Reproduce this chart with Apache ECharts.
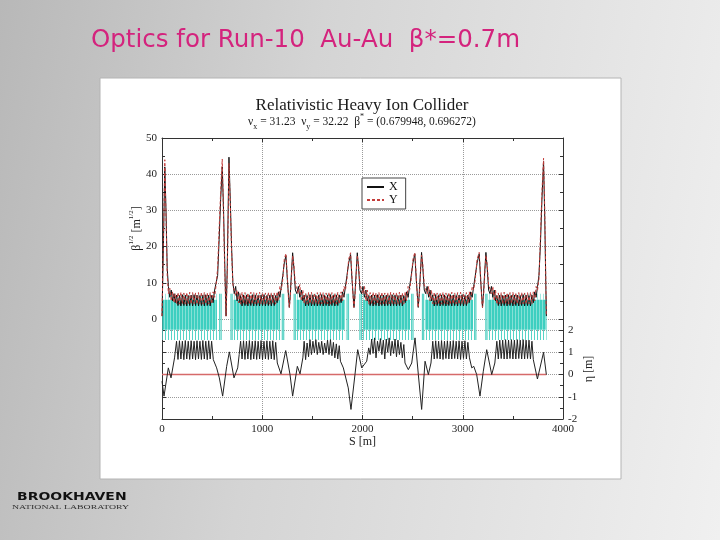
<!DOCTYPE html>
<html><head><meta charset="utf-8">
<script src="https://cdn.jsdelivr.net/npm/echarts@6/dist/echarts.min.js"></script>
<style>
html,body{margin:0;padding:0;}
body{width:720px;height:540px;background:linear-gradient(100deg,#b8b8b8 0%,#d4d4d4 40%,#f0f0f0 100%);}
#c{width:720px;height:540px;}
</style></head><body><div id="c"></div>
<script>
// ---------------- data ----------------
const sTickLabels = [0, 1000, 2000, 3000, 4000];
const betaTickLabels = [0, 10, 20, 30, 40, 50];
const etaTickLabels = [-2, -1, 0, 1, 2];

// insertion regions: [S (m), sqrt(beta_x), sqrt(beta_y)]
const irOptics = [
  [0,0.8,0.8],[14,20,22],[28,42,44],[40,30,28],[52,14,12],[64,9,7],[78,6,8.5],[92,8,5],[106,5,7.5],[120,7,4.5],[132,4.5,7],
  [510,4.5,7.5],[525,8,6],[540,8.5,9.5],[555,12,14],[570,22,25],[585,33,35],[601,42,44.2],[614,30,28],[627,14,12],[639,0.8,0.8],
  [651,14,13],[662,34,31],[668,44.7,43],[681,33,32],[694,20,19],[707,10,9.5],[721,7,9],[735,9,6.5],[749,5,8],[763,7.5,4.5],[777,4.5,7],
  [1148,4.5,7.5],[1162,7.5,5],[1176,6,9],[1190,9,8],[1205,12,11],[1220,15.5,16.5],[1236,17.5,18.1],[1250,11,12],[1263,6,5],[1270,3.2,3.2],
  [1280,7,6],[1292,13,12],[1303,18.3,17.5],[1316,14,15],[1330,8,9.5],[1345,7,10],[1360,9,7],[1375,6,9.5],[1390,8,5],[1405,5,8],
  [1787,4.5,7.5],[1801,7.5,5],[1815,6,9],[1830,9,8],[1845,12,11],[1862,15.5,16.5],[1881,17.8,18.3],[1895,11,12],[1908,6,5],[1915,3.2,3.2],
  [1925,7,6],[1937,13,12],[1948,18.3,17.6],[1961,14,15],[1975,8,9.5],[1990,7,10],[2005,9,7],[2020,6,9],[2034,8,5],[2048,5,8],
  [2426,4.5,7.5],[2440,7.5,5],[2455,6,9],[2470,9,8],[2486,12,11],[2503,15.5,16.5],[2522,18.0,18.4],[2536,11,12],[2549,6,5],[2556,3.2,3.2],
  [2566,7,6],[2578,13,12],[2589,18.4,17.6],[2602,14,15],[2616,8,9.5],[2630,7,10],[2645,9,7],[2660,6,9],[2674,8,5],[2688,5,8],
  [3065,4.5,7.5],[3079,7.5,5],[3094,6,9],[3109,9,8],[3125,12,11],[3143,15.5,16.5],[3164,18.0,18.4],[3178,11,12],[3190,6,5],[3197,3.2,3.2],
  [3207,7,6],[3219,13,12],[3231,18.4,17.6],[3244,14,15],[3258,8,9.5],[3272,7,10],[3286,9,7],[3300,6,9],[3314,8,5],[3327,5,8],
  [3704,4.5,7.5],[3718,7.5,5],[3732,6,9],[3746,9,8],[3760,12,11],[3774,20,22],[3790,33,35],[3806,43.5,44.4],[3818,28,30],[3826,14,15],[3834,0.8,0.8]
];

// arcs: centre S of each arc and the S offsets of the FODO extrema read along it
const arcCentres = [320, 959, 1593, 2237, 2876, 3515];
const arcOffsets = [-175,-160.4,-145.8,-131.3,-116.7,-102.1,-87.5,-72.9,-58.3,-43.8,-29.2,-14.6,0,14.6,29.2,43.8,58.3,72.9,87.5,102.1,116.7,131.3,145.8,160.4,175];
const arcBetaX = [
  [6.6,3.7,6.5,3.6,6.7,3.7,6.6,3.6,6.5,3.7,6.6,3.6,6.7,3.7,6.6,3.6,6.5,3.7,6.6,3.6,6.7,3.7,6.6,3.6,6.5],
  [6.5,3.6,6.6,3.7,6.6,3.6,6.5,3.7,6.7,3.6,6.6,3.7,6.5,3.6,6.6,3.7,6.7,3.6,6.5,3.7,6.6,3.6,6.6,3.7,6.5],
  [6.6,3.6,6.5,3.7,6.7,3.6,6.6,3.7,6.5,3.6,6.6,3.7,6.7,3.6,6.5,3.7,6.6,3.6,6.7,3.7,6.5,3.6,6.6,3.7,6.6],
  [6.5,3.7,6.6,3.6,6.6,3.7,6.7,3.6,6.5,3.7,6.6,3.6,6.6,3.7,6.5,3.6,6.7,3.7,6.6,3.6,6.5,3.7,6.6,3.6,6.5],
  [6.6,3.6,6.7,3.7,6.5,3.6,6.6,3.7,6.6,3.6,6.5,3.7,6.7,3.6,6.6,3.7,6.5,3.6,6.6,3.7,6.7,3.6,6.5,3.7,6.6],
  [6.5,3.7,6.6,3.6,6.5,3.7,6.6,3.6,6.7,3.7,6.5,3.6,6.6,3.7,6.6,3.6,6.5,3.7,6.7,3.6,6.6,3.7,6.5,3.6,6.6]
];
const arcBetaY = [
  [4.2,7.3,4.1,7.4,4.2,7.2,4.1,7.3,4.2,7.4,4.1,7.3,4.2,7.2,4.1,7.3,4.2,7.4,4.1,7.3,4.2,7.2,4.1,7.3,4.2],
  [4.1,7.4,4.2,7.3,4.1,7.2,4.2,7.4,4.1,7.3,4.2,7.2,4.1,7.4,4.2,7.3,4.1,7.2,4.2,7.4,4.1,7.3,4.2,7.2,4.1],
  [4.2,7.2,4.1,7.3,4.2,7.4,4.1,7.2,4.2,7.3,4.1,7.4,4.2,7.3,4.1,7.2,4.2,7.4,4.1,7.3,4.2,7.2,4.1,7.4,4.2],
  [4.1,7.3,4.2,7.4,4.1,7.2,4.2,7.3,4.1,7.4,4.2,7.2,4.1,7.3,4.2,7.4,4.1,7.2,4.2,7.3,4.1,7.4,4.2,7.2,4.1],
  [4.2,7.4,4.1,7.2,4.2,7.3,4.1,7.4,4.2,7.2,4.1,7.3,4.2,7.4,4.1,7.2,4.2,7.3,4.1,7.4,4.2,7.2,4.1,7.3,4.2],
  [4.1,7.2,4.2,7.3,4.1,7.4,4.2,7.2,4.1,7.3,4.2,7.4,4.1,7.2,4.2,7.3,4.1,7.4,4.2,7.2,4.1,7.3,4.2,7.4,4.1]
];
const arcEta = [
  [1.5,0.68,1.52,0.7,1.5,0.67,1.53,0.7,1.5,0.68,1.52,0.7,1.5,0.67,1.52,0.7,1.5,0.68,1.53,0.7,1.5,0.67,1.52,0.7,1.5],
  [1.5,0.7,1.52,0.68,1.5,0.7,1.53,0.67,1.5,0.7,1.52,0.68,1.5,0.7,1.53,0.67,1.5,0.7,1.52,0.68,1.5,0.7,1.52,0.67,1.45],
  [1.5,0.67,1.42,0.8,1.57,0.9,1.5,0.97,1.57,0.9,1.45,0.97,1.5,0.9,1.42,0.97,1.55,0.9,1.57,0.85,1.45,0.75,1.38,0.7,1.3],
  [1.2,0.9,1.6,0.95,1.65,0.75,1.5,1.05,1.62,0.9,1.55,0.7,1.6,1.0,1.65,0.85,1.5,0.95,1.6,0.8,1.55,0.9,1.45,0.75,1.35],
  [1.5,0.7,1.52,0.72,1.5,0.7,1.53,0.68,1.5,0.72,1.52,0.7,1.5,0.7,1.53,0.72,1.5,0.7,1.52,0.68,1.5,0.72,1.52,0.7,1.45],
  [1.5,0.7,1.55,0.72,1.55,0.7,1.57,0.7,1.55,0.72,1.57,0.7,1.55,0.7,1.57,0.72,1.55,0.7,1.57,0.7,1.55,0.72,1.55,0.7,1.5]
];
// dispersion in the insertion regions: [S (m), eta (m)]
const irEta = [
  [0,-0.3],[20,-0.97],[63,0.3],[90,-0.15],[125,0.75],
  [512,0.67],[545,0.3],[572,-0.15],[605,-0.97],[645,0.37],[672,1.02],[718,-0.15],[755,0.3],[770,0.9],
  [1150,0.52],[1187,0.03],[1234,1.08],[1277,0],[1303,-0.97],[1350,0.37],[1377,0.03],[1405,0.75],
  [1780,0.6],[1809,0.3],[1825,0],[1858,-0.6],[1885,-1.57],[1925,0],[1952,1.12],[1992,0.3],[2042,0.6],
  [2424,0.52],[2457,0.22],[2491,0.52],[2524,1.65],[2557,0],[2590,-1.57],[2624,0.6],[2657,0],[2683,0.52],
  [3067,0.75],[3090,0.3],[3110,0.37],[3139,0],[3172,-0.97],[3205,0.15],[3239,1.12],[3289,0],[3320,0.52],
  [3704,0.67],[3745,-0.2],[3806,1.0],[3834,0]
];
const etaZeroLine = [[0,0],[3834,0]];
// lattice elements (cyan): continuous stretches [S start, S end] and isolated elements [S]
const cyanBlocks = [[3,548],[712,1178],[1342,1826],[2006,2474],[2624,3103],[3252,3836]];
const cyanBars = [575,590,688,700,1200,1214,1318,1330,1846,1860,1974,1990,2490,2504,2598,2610,3118,3131,3230,3242];

// ---------------- build ----------------
const bx = [], by = [], eta = [];
irOptics.forEach(p => { bx.push([p[0], p[1]]); by.push([p[0], p[2]]); });
arcCentres.forEach((c, i) => arcOffsets.forEach((o, k) => {
  const s = c + o;
  bx.push([s, arcBetaX[i][k]]); by.push([s, arcBetaY[i][k]]); eta.push([s, arcEta[i][k]]);
}));
irEta.forEach(p => eta.push(p));
[bx, by, eta].forEach(a => a.sort((p, q) => p[0] - q[0]));
const cyanData = cyanBlocks.map(b => [b[0], b[1], 0]).concat(cyanBars.map(s => [s, s, 1]));

function stripes(cols) {
  const c = document.createElement('canvas');
  c.width = cols.length; c.height = 4;
  const g = c.getContext('2d');
  cols.forEach((col, i) => { if (col) { g.fillStyle = col; g.fillRect(i, 0, 1, 4); } });
  return c;
}
const patDense = stripes(['#3dcfc0', '#3dcfc0', '#84e0d6']);
const patFringe = stripes(['#56d4c7', null, null]);
const patTop = stripes(['#a2e7df', null, null]);

const SERIF = '"Liberation Serif", "Times New Roman", serif';
const axisColor = '#333';
const splitStyle = { show: true, lineStyle: { type: 'dotted', color: '#9a9a9a', width: 1 } };
const tick = { inside: true, length: 4, lineStyle: { color: axisColor } };
const minor = { show: true, splitNumber: 2, length: 3, lineStyle: { color: axisColor } };
const line = { onZero: false, lineStyle: { color: axisColor, width: 1 } };

const chart = echarts.init(document.getElementById('c'), null, { renderer: 'canvas' });
chart.setOption({
  animation: false,
  textStyle: { fontFamily: SERIF },
  grid: [
    { left: 162, top: 138, width: 401, height: 181 },
    { left: 162, top: 319, width: 401, height: 100 }
  ],
  xAxis: [
    { gridIndex: 0, type: 'value', min: 0, max: 4000, interval: 1000, position: 'top',
      axisLine: line, axisTick: tick, minorTick: minor, axisLabel: { show: false }, splitLine: splitStyle },
    { gridIndex: 1, type: 'value', min: 0, max: 4000, interval: 1000, position: 'bottom',
      axisLine: line, axisTick: tick, minorTick: minor, splitLine: splitStyle,
      axisLabel: { margin: 5, fontSize: 11, color: '#222', fontFamily: SERIF,
        formatter: v => sTickLabels.includes(v) ? String(v) : '' },
      name: 'S [m]', nameLocation: 'middle', nameGap: 17, nameMoveOverlap: false,
      nameTextStyle: { fontFamily: SERIF, fontSize: 12, color: '#222' } }
  ],
  yAxis: [
    { gridIndex: 0, type: 'value', min: 0, max: 50, interval: 10, position: 'left',
      axisLine: line, axisTick: tick, minorTick: minor, splitLine: splitStyle,
      axisLabel: { margin: 5, fontSize: 11, color: '#222', fontFamily: SERIF,
        formatter: v => betaTickLabels.includes(v) ? String(v) : '' },
      name: '{b|β}{s|1/2}{b| [m}{s|1/2}{b|]}', nameLocation: 'middle', nameGap: 16, nameRotate: 90, nameMoveOverlap: false,
      nameTextStyle: { fontFamily: SERIF, color: '#222', rich: {
        b: { fontFamily: SERIF, fontSize: 12, color: '#222', lineHeight: 18, verticalAlign: 'middle' },
        s: { fontFamily: SERIF, fontSize: 7, color: '#222', lineHeight: 8, verticalAlign: 'top' } } } },
    { gridIndex: 0, type: 'value', min: 0, max: 50, interval: 10, position: 'right',
      axisLine: line, axisTick: tick, minorTick: minor, splitLine: { show: false }, axisLabel: { show: false } },
    { gridIndex: 1, type: 'value', min: -2, max: 2.5, interval: 1, position: 'right',
      axisLine: line, axisTick: tick, minorTick: minor, splitLine: splitStyle,
      axisLabel: { margin: 5, fontSize: 11, color: '#222', fontFamily: SERIF,
        formatter: v => etaTickLabels.includes(v) ? String(v) : '' },
      name: 'η [m]', nameLocation: 'middle', nameGap: 20, nameRotate: 90, nameMoveOverlap: false,
      nameTextStyle: { fontFamily: SERIF, fontSize: 12, color: '#222' } },
    { gridIndex: 1, type: 'value', min: -2, max: 2.5, interval: 1, position: 'left',
      axisLine: line, axisTick: tick, minorTick: minor, splitLine: { show: false }, axisLabel: { show: false } }
  ],
  legend: {
    data: ['X', 'Y'], orient: 'vertical', left: 362, top: 178,
    padding: [3, 8, 3, 4], itemGap: 1, itemWidth: 17, itemHeight: 11,
    borderColor: '#444', borderWidth: 1, borderRadius: 0, backgroundColor: '#fff',
    itemStyle: { opacity: 0, borderWidth: 0 },
    textStyle: { fontFamily: SERIF, fontSize: 12, color: '#111' }
  },
  series: [
    { type: 'custom', name: 'elements', xAxisIndex: 0, yAxisIndex: 0, silent: true, z: 1,
      encode: { x: [0, 1], y: 2 }, data: cyanData,
      renderItem: (params, api) => {
        const kind = api.value(2);
        const a = api.coord([api.value(0), 0]);
        const b = api.coord([api.value(1), 0]);
        const yCap = api.coord([0, 7])[1], yTop = api.coord([0, 5.3])[1];
        const yMid = api.coord([0, -3])[1], yBot = api.coord([0, -5.8])[1];
        if (kind === 1) {
          return { type: 'rect', shape: { x: a[0] - 0.6, y: yCap, width: 1.2, height: yBot - yCap }, style: { fill: '#5ad2c5' } };
        }
        const w = b[0] - a[0];
        return { type: 'group', children: [
          { type: 'rect', shape: { x: a[0], y: yCap, width: w, height: yTop - yCap }, style: { fill: { image: patTop, repeat: 'repeat' } } },
          { type: 'rect', shape: { x: a[0], y: yTop, width: w, height: yMid - yTop }, style: { fill: { image: patDense, repeat: 'repeat' } } },
          { type: 'rect', shape: { x: a[0], y: yMid, width: w, height: yBot - yMid }, style: { fill: { image: patFringe, repeat: 'repeat' } } }
        ] };
      } },
    { type: 'line', name: 'etaZero', xAxisIndex: 1, yAxisIndex: 2, data: etaZeroLine, symbol: 'none', silent: true,
      lineStyle: { color: '#d66a6a', width: 1.5 }, z: 2 },
    { type: 'line', name: 'eta', xAxisIndex: 1, yAxisIndex: 2, data: eta, symbol: 'none', silent: true,
      lineStyle: { color: '#222', width: 1 }, z: 3 },
    { type: 'line', name: 'X', xAxisIndex: 0, yAxisIndex: 0, data: bx, symbol: 'none', showSymbol: false, silent: true,
      color: '#111', lineStyle: { color: '#111', width: 1 }, z: 4 },
    { type: 'line', name: 'Y', xAxisIndex: 0, yAxisIndex: 0, data: by, symbol: 'none', showSymbol: false, silent: true,
      color: '#c43c3a', lineStyle: { color: '#c43c3a', width: 1, type: [3, 2] }, z: 5 }
  ],
  graphic: [
    { type: 'rect', z: -100, shape: { x: 100, y: 78, width: 521, height: 401 }, style: { fill: '#ffffff', stroke: '#b4b4b4', lineWidth: 1 } },
    { type: 'text', x: 91, y: 41, style: { text: 'Optics for Run-10  Au-Au  β*=0.7m', font: '24.5px "DejaVu Sans", sans-serif', fill: '#d4237d', verticalAlign: 'middle', align: 'left' } },
    { type: 'text', x: 362, y: 106, style: { text: 'Relativistic Heavy Ion Collider', font: '17px ' + SERIF, fill: '#1a1a1a', align: 'center', verticalAlign: 'middle' } },
    { type: 'text', x: 362, y: 122, style: {
        text: '{n|ν}{sub|x}{n| = 31.23  ν}{sub|y}{n| = 32.22  β}{sup|*}{n| = (0.679948, 0.696272)}',
        align: 'center', verticalAlign: 'middle',
        rich: {
          n: { font: '11.5px ' + SERIF, fill: '#1a1a1a', lineHeight: 18, verticalAlign: 'middle' },
          sub: { font: '8px ' + SERIF, fill: '#1a1a1a', lineHeight: 8, verticalAlign: 'bottom' },
          sup: { font: '8px ' + SERIF, fill: '#1a1a1a', lineHeight: 8, verticalAlign: 'top' }
        } } },
    { type: 'text', x: 17, y: 497, scaleX: 1.27, style: { text: 'BROOKHAVEN', font: 'bold 11px "DejaVu Sans", sans-serif', fill: '#111', verticalAlign: 'middle', align: 'left' } },
    { type: 'text', x: 12, y: 507, scaleX: 1.4, style: { text: 'NATIONAL LABORATORY', font: '7px ' + SERIF, fill: '#333', verticalAlign: 'middle', align: 'left' } }
  ]
});
</script>
</body></html>
